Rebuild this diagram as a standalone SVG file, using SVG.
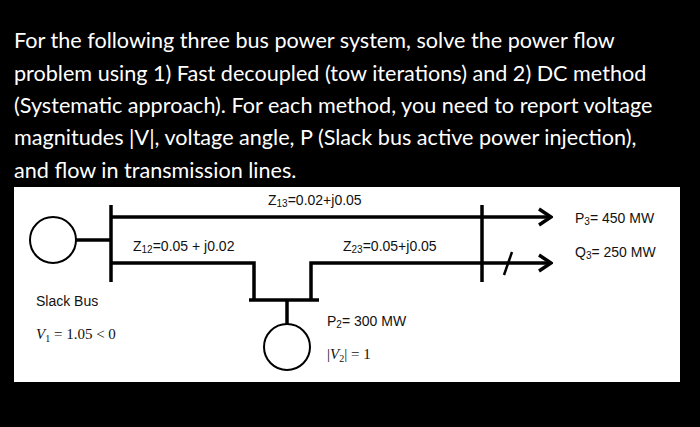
<svg xmlns="http://www.w3.org/2000/svg" width="700" height="427" viewBox="0 0 700 427">
<style>
.h{font-family:Lato,"Open Sans",sans-serif;font-size:21.6px;fill:#fff}
.t{font-family:"Liberation Sans",Arial,sans-serif;font-size:14px;fill:#111}
.m{font-family:"Liberation Serif",serif;font-size:15px;font-style:italic;fill:#111}
.w{stroke:#000;stroke-width:3.5;fill:none}
.c{stroke:#000;stroke-width:2;fill:#fff}
</style>
<defs><marker id="a" markerWidth="16" markerHeight="20" refX="14" refY="10" orient="auto" markerUnits="userSpaceOnUse"><path d="M2,2 L14,10 L2,18" fill="none" stroke="#000" stroke-width="3.5"/></marker></defs>
<rect width="700" height="427" fill="#000"/>
<text class="h" x="14" y="48">For the following three bus power system, solve the power flow</text>
<text class="h" x="14" y="81">problem using 1) Fast decoupled (tow iterations) and 2) DC method</text>
<text class="h" x="14" y="113">(Systematic approach). For each method, you need to report voltage</text>
<text class="h" x="14" y="145">magnitudes |V|, voltage angle, P (Slack bus active power injection),</text>
<text class="h" x="14" y="178">and flow in transmission lines.</text>
<rect x="14" y="187" width="666" height="195" fill="#fff"/>
<g id="connectors">
<path class="w" d="M76,240 H110"/>
<path class="w" d="M112,217 H551" marker-end="url(#a)"/>
<path class="w" d="M112,263 H254 V300 M311,300 V263 H551" marker-end="url(#a)"/>
<path class="w" d="M287,300 V324"/>
<path d="M504,275 L512,252" stroke="#000" stroke-width="2.5"/>
</g>
<g id="bus1"><path class="w" d="M111,205 V282"/></g>
<g id="bus3"><path class="w" d="M482,205 V282"/></g>
<g id="bus2"><path class="w" d="M249,300 H319"/></g>
<g id="gen1"><ellipse class="c" cx="53" cy="240" rx="23" ry="23"/></g>
<g id="gen2"><ellipse class="c" cx="287" cy="347" rx="23" ry="23"/></g>
<g id="labels">
<text class="t" x="268" y="205">Z<tspan font-size="10" dy="2">13</tspan><tspan dy="-2">=0.02+j0.05</tspan></text>
<text class="t" x="133" y="251">Z<tspan font-size="10" dy="2">12</tspan><tspan dy="-2">=0.05 + j0.02</tspan></text>
<text class="t" x="343" y="251">Z<tspan font-size="10" dy="2">23</tspan><tspan dy="-2">=0.05+j0.05</tspan></text>
<text class="t" x="575" y="223">P<tspan font-size="10" dy="2">3</tspan><tspan dy="-2">= 450 MW</tspan></text>
<text class="t" x="575" y="257">Q<tspan font-size="10" dy="2">3</tspan><tspan dy="-2">= 250 MW</tspan></text>
<text class="t" x="36" y="306">Slack Bus</text>
<text class="m" x="36" y="339">V<tspan font-size="10" dy="3" font-style="normal">1</tspan><tspan dy="-3" font-style="normal"> = 1.05 &lt; 0</tspan></text>
<text class="t" x="327" y="326">P<tspan font-size="10" dy="2">2</tspan><tspan dy="-2">= 300 MW</tspan></text>
<text class="m" x="327" y="359"><tspan font-style="normal">|</tspan>V<tspan font-size="10" dy="3" font-style="normal">2</tspan><tspan dy="-3" font-style="normal">| = 1</tspan></text>
</g>
</svg>
